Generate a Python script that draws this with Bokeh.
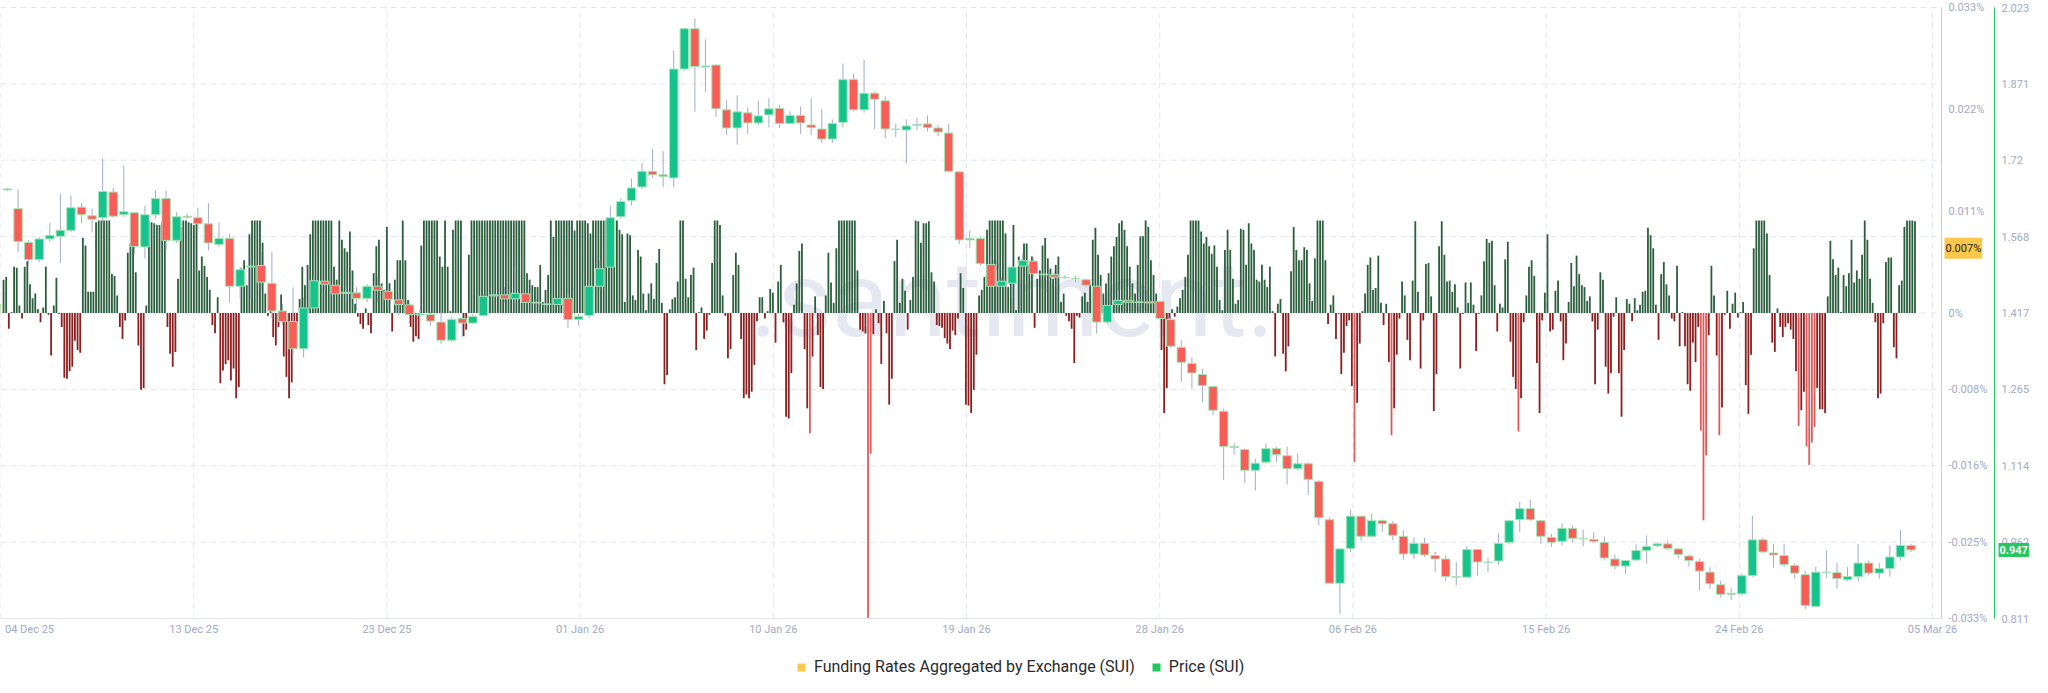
from bokeh.plotting import figure
from bokeh.models import Range1d, LinearAxis, FixedTicker, Label, Legend, LegendItem, ColumnDataSource
from bokeh.embed import file_html
from bokeh.resources import INLINE

# ---------------- axes (x in days since 2025-12-04 00:00) ----------------
x_tick_days = [0.669, 9.804, 18.939, 28.074, 37.209, 46.344, 55.479, 64.614, 73.749, 82.884, 92.019]
x_tick_labels = ["04 Dec 25", "13 Dec 25", "23 Dec 25", "01 Jan 26", "10 Jan 26", "19 Jan 26",
                 "28 Jan 26", "06 Feb 26", "15 Feb 26", "24 Feb 26", "05 Mar 26"]
price_ticks = [0.811, 0.9625, 1.114, 1.2655, 1.417, 1.5685, 1.72, 1.8715, 2.023]
price_tick_labels = ["0.811", "0.962", "1.114", "1.265", "1.417", "1.568", "1.72", "1.871", "2.023"]
funding_ticks = [33, 22, 11, 0, -8.25, -16.5, -24.75, -33]          # units of 0.001 %
funding_tick_labels = ["0.033%", "0.022%", "0.011%", "0%", "-0.008%", "-0.016%", "-0.025%", "-0.033%"]
legend_labels = ["Funding Rates Aggregated by Exchange (SUI)", "Price (SUI)"]
last_funding_label = "0.007%"
last_funding = 7
last_price = 0.947

# ---------------- price (SUI), 12h candles starting 2025-12-05 00:00 ----------------
candle_start = 1.0
candle_step = 0.5
price_open = [
    1.663, 1.624, 1.557, 1.523, 1.564, 1.569, 1.581, 1.627, 1.610, 1.606,
    1.657, 1.612, 1.616, 1.548, 1.612, 1.644, 1.561, 1.609, 1.606, 1.594,
    1.553, 1.565, 1.470, 1.508, 1.511, 1.476, 1.421, 1.400, 1.346, 1.427,
    1.480, 1.472, 1.456, 1.457, 1.446, 1.470, 1.460, 1.443, 1.433, 1.413,
    1.414, 1.399, 1.363, 1.406, 1.397, 1.412, 1.451, 1.453, 1.445, 1.455,
    1.438, 1.435, 1.434, 1.446, 1.404, 1.412, 1.470, 1.508, 1.608, 1.640,
    1.667, 1.698, 1.691, 1.685, 1.901, 1.981, 1.905, 1.909, 1.820, 1.784,
    1.814, 1.794, 1.810, 1.823, 1.793, 1.809, 1.790, 1.782, 1.762, 1.795,
    1.880, 1.820, 1.853, 1.838, 1.782, 1.780, 1.789, 1.792, 1.784, 1.774,
    1.697, 1.562, 1.565, 1.513, 1.470, 1.476, 1.510, 1.520, 1.493, 1.493,
    1.488, 1.486, 1.483, 1.470, 1.399, 1.434, 1.442, 1.438, 1.439, 1.440,
    1.404, 1.349, 1.317, 1.295, 1.271, 1.222, 1.152, 1.146, 1.105, 1.121,
    1.148, 1.134, 1.108, 1.118, 1.083, 1.007, 0.881, 0.950, 1.014, 0.974,
    1.005, 0.999, 0.974, 0.939, 0.960, 0.936, 0.929, 0.894, 0.893, 0.948,
    0.922, 0.925, 0.962, 1.007, 1.029, 1.005, 0.972, 0.964, 0.990, 0.970,
    0.968, 0.962, 0.929, 0.915, 0.927, 0.946, 0.955, 0.959, 0.949, 0.935,
    0.924, 0.903, 0.878, 0.859, 0.860, 0.896, 0.967, 0.941, 0.936, 0.916,
    0.898, 0.835, 0.903, 0.902, 0.888, 0.894, 0.921, 0.901, 0.910, 0.933,
    0.956]
price_high = [
    1.665, 1.662, 1.562, 1.567, 1.596, 1.654, 1.650, 1.635, 1.624, 1.723,
    1.665, 1.710, 1.617, 1.630, 1.661, 1.659, 1.617, 1.614, 1.626, 1.635,
    1.597, 1.574, 1.508, 1.528, 1.538, 1.538, 1.435, 1.468, 1.448, 1.491,
    1.483, 1.475, 1.468, 1.468, 1.474, 1.488, 1.476, 1.452, 1.438, 1.425,
    1.419, 1.419, 1.409, 1.415, 1.415, 1.452, 1.456, 1.468, 1.508, 1.458,
    1.445, 1.438, 1.450, 1.455, 1.415, 1.475, 1.521, 1.630, 1.644, 1.684,
    1.715, 1.743, 1.738, 1.938, 1.983, 2.001, 1.960, 1.910, 1.839, 1.849,
    1.825, 1.838, 1.843, 1.830, 1.817, 1.827, 1.843, 1.822, 1.801, 1.912,
    1.891, 1.920, 1.856, 1.847, 1.793, 1.801, 1.804, 1.809, 1.790, 1.793,
    1.698, 1.581, 1.569, 1.529, 1.488, 1.511, 1.535, 1.527, 1.503, 1.501,
    1.492, 1.491, 1.485, 1.475, 1.438, 1.462, 1.445, 1.458, 1.441, 1.442,
    1.409, 1.363, 1.329, 1.306, 1.273, 1.227, 1.158, 1.148, 1.128, 1.158,
    1.151, 1.152, 1.138, 1.121, 1.086, 1.011, 0.950, 1.027, 1.015, 1.019,
    1.007, 1.004, 0.986, 0.972, 0.971, 0.943, 0.936, 0.923, 0.954, 0.949,
    0.931, 0.980, 1.007, 1.042, 1.047, 1.006, 0.979, 1.000, 0.996, 0.987,
    0.982, 0.974, 0.938, 0.927, 0.958, 0.976, 0.962, 0.966, 0.951, 0.938,
    0.929, 0.913, 0.886, 0.872, 0.900, 1.015, 0.972, 0.959, 0.959, 0.920,
    0.905, 0.914, 0.946, 0.921, 0.913, 0.959, 0.926, 0.921, 0.956, 0.987,
    0.959]
price_low = [
    1.660, 1.538, 1.513, 1.518, 1.558, 1.516, 1.577, 1.595, 1.577, 1.594,
    1.606, 1.607, 1.534, 1.525, 1.604, 1.542, 1.557, 1.604, 1.582, 1.541,
    1.548, 1.438, 1.445, 1.448, 1.465, 1.407, 1.394, 1.333, 1.329, 1.422,
    1.462, 1.452, 1.438, 1.422, 1.438, 1.438, 1.429, 1.412, 1.397, 1.397,
    1.392, 1.356, 1.359, 1.369, 1.396, 1.410, 1.447, 1.438, 1.435, 1.434,
    1.419, 1.430, 1.429, 1.387, 1.392, 1.406, 1.462, 1.505, 1.604, 1.630,
    1.663, 1.685, 1.667, 1.667, 1.898, 1.816, 1.855, 1.806, 1.770, 1.751,
    1.772, 1.789, 1.785, 1.784, 1.792, 1.772, 1.770, 1.754, 1.754, 1.785,
    1.817, 1.814, 1.782, 1.764, 1.766, 1.714, 1.780, 1.777, 1.768, 1.697,
    1.554, 1.546, 1.511, 1.468, 1.467, 1.448, 1.507, 1.489, 1.488, 1.483,
    1.484, 1.478, 1.468, 1.376, 1.396, 1.429, 1.434, 1.429, 1.435, 1.402,
    1.348, 1.280, 1.267, 1.240, 1.214, 1.086, 1.136, 1.080, 1.065, 1.118,
    1.121, 1.077, 1.105, 1.056, 0.996, 0.880, 0.820, 0.943, 0.966, 0.972,
    0.982, 0.966, 0.928, 0.929, 0.933, 0.903, 0.885, 0.877, 0.892, 0.896,
    0.903, 0.918, 0.958, 0.982, 1.005, 0.959, 0.953, 0.956, 0.962, 0.954,
    0.960, 0.926, 0.908, 0.900, 0.925, 0.920, 0.952, 0.947, 0.931, 0.914,
    0.867, 0.870, 0.853, 0.848, 0.857, 0.893, 0.941, 0.912, 0.913, 0.890,
    0.830, 0.833, 0.892, 0.870, 0.885, 0.885, 0.896, 0.890, 0.894, 0.926,
    0.943]
price_close = [
    1.661, 1.559, 1.523, 1.564, 1.571, 1.581, 1.626, 1.612, 1.603, 1.658,
    1.609, 1.618, 1.549, 1.612, 1.644, 1.561, 1.608, 1.607, 1.594, 1.556,
    1.565, 1.470, 1.503, 1.510, 1.478, 1.421, 1.400, 1.346, 1.427, 1.481,
    1.474, 1.455, 1.458, 1.446, 1.470, 1.462, 1.444, 1.434, 1.414, 1.415,
    1.401, 1.363, 1.404, 1.397, 1.410, 1.450, 1.453, 1.445, 1.456, 1.438,
    1.437, 1.434, 1.446, 1.404, 1.410, 1.470, 1.505, 1.606, 1.638, 1.665,
    1.698, 1.691, 1.688, 1.901, 1.981, 1.906, 1.907, 1.822, 1.784, 1.816,
    1.794, 1.808, 1.822, 1.793, 1.809, 1.794, 1.785, 1.762, 1.793, 1.880,
    1.820, 1.853, 1.841, 1.782, 1.781, 1.788, 1.791, 1.785, 1.776, 1.698,
    1.562, 1.565, 1.515, 1.470, 1.480, 1.508, 1.521, 1.495, 1.494, 1.488,
    1.487, 1.485, 1.472, 1.399, 1.432, 1.442, 1.438, 1.439, 1.437, 1.406,
    1.351, 1.319, 1.298, 1.273, 1.224, 1.152, 1.150, 1.105, 1.119, 1.148,
    1.136, 1.108, 1.118, 1.087, 1.011, 0.881, 0.949, 1.014, 0.974, 1.005,
    0.999, 0.976, 0.939, 0.960, 0.937, 0.929, 0.894, 0.893, 0.948, 0.923,
    0.923, 0.960, 1.005, 1.029, 1.007, 0.974, 0.962, 0.990, 0.970, 0.969,
    0.964, 0.931, 0.915, 0.926, 0.946, 0.954, 0.959, 0.950, 0.938, 0.926,
    0.905, 0.880, 0.859, 0.861, 0.896, 0.967, 0.943, 0.937, 0.918, 0.901,
    0.837, 0.903, 0.902, 0.890, 0.894, 0.921, 0.901, 0.910, 0.933, 0.956,
    0.947]

# ---------------- funding rate, 3h steps, units of 0.001 % ----------------
funding_start = 0.8125
funding_step = 0.125
funding_rate = [
    3.6, 3.9, -1.7, 0.1, 5.0, 4.9, 0.8, -0.6, 5.0, 5.6,
    3.1, 1.6, 2.1, 0.4, -1.0, 0.6, 5.0, -0.2, -4.6, 0.8,
    3.8, -0.1, -1.5, -7.0, -7.1, -6.3, -5.8, -3.0, -4.0, -4.3,
    8.1, 7.3, 2.3, 2.3, 2.3, 9.8, 10, 10, 10, 10,
    10, 4.2, 4.0, 1.9, -1.5, -2.8, -0.8, 6.5, 7.5, 7.3,
    4.4, -3.5, -8.3, -8.1, 0.8, 9.8, 9.8, 9.7, 9.5, 9.5,
    9.8, 9.8, -1.5, -4.4, -5.8, -4.2, 3.7, 9.3, 10, 10,
    9.8, 9.7, 9.5, 9.7, 4.6, 6.1, 5.1, 3.9, 2.5, -1.3,
    -2.2, 1.7, -7.6, -6.2, -5.5, -5.1, -7.3, -6.0, -9.2, -8.0,
    4.8, 5.7, 3.0, 8.5, 10, 10, 10, 10, 7.6, 2.1,
    -0.3, 2.1, -2.6, -3.5, -1.5, 2.0, -4.7, -6.9, -9.2, -7.5,
    -3.0, -1.0, 1.5, 5.0, 3.0, 5.2, 8.5, 10, 10, 10,
    10, 10, 10, 10, 10, 5.0, 3.6, 10, 7.9, 7.0,
    6.6, 8.8, 4.6, 1.0, -0.4, -1.2, -1.7, 0.5, -1.3, -2.2,
    4.3, 7.2, 7.9, 3.2, 2.5, 9.3, 3.2, -2.0, 3.6, 5.7,
    5.7, 10, 5.7, 1.4, -1.5, -3.1, -2.5, -2.8, 7.3, 10,
    10, 10, 10, 10, 10, 6.1, 5.0, 10, 5.0, 0.2,
    9.0, 10, 10, 10, -2.5, -1.8, 6.3, 10, 10, 10,
    10, 10, 10, 10, 10, 10, 10, 10, 10, 10,
    10, 10, 10, 10, 10, 10, 10, 10, 4.3, 3.6,
    3.0, 2.8, 2.8, 5.2, 1.2, 2.5, 4.1, 10, 8.2, 10,
    10, 10, 10, 10, 10, 10, 8.9, 10, 10, 10,
    10, 9.7, 8.6, 10, 10, 10, 10, 10, 10, 10,
    10, 10, 10, 9.0, 8.5, 1.2, 8.6, 8.4, 1.9, 1.4,
    6.8, 6.1, 2.1, 0.3, 2.1, 3.2, 1.5, 5.4, 6.9, 1.1,
    -7.7, -6.7, 0.4, 1.5, 1.7, 3.4, 10, 10, 3.7, 1.7,
    4.1, 4.9, -4.0, 0.1, 0.6, -2.8, -1.9, -0.2, 5.4, 10,
    10, 9.5, 1.9, -0.3, -4.9, -3.9, 4.1, 6.5, 5.2, -2.8,
    -9.2, -8.8, -9.2, -8.5, -5.6, -0.9, 1.7, 1.7, -0.6, 0.2,
    2.6, 2.2, -3.2, 3.4, 5.2, -1.0, -11.2, -11.4, -6.5, 0.9,
    3.2, 6.7, 7.5, -3.9, -10.3, -13.0, -4.7, 1.8, -2.4, -8.0,
    -8.2, 1.9, 6.5, 3.3, 1.1, 7.0, 10, 10, 10, 10,
    10, 10, 10, 4.6, -1.8, -2.0, -2.2, -33, -15.2, -2.3,
    0.4, -1.1, -5.5, 1.3, -2.2, -9.9, -7.1, 5.6, 7.9, 1.1,
    3.7, 2.4, -1.8, 1.4, 3.9, 10, 9.9, 7.6, 9.7, 9.7,
    9.9, 4.4, 3.4, -1.3, -1.4, -1.6, -2.7, -3.3, -3.9, -1.9,
    -2.4, -0.6, 4.3, 2.7, -9.9, -10.0, -10.8, -8.3, -4.5, 1.9,
    2.5, 3.9, 9.0, 10, 10, 10, 10, 10, 10, 8.6,
    2.8, 3.7, 9.5, 0.3, 6.1, 5.2, 7.5, 7.5, 5.2, 6.1,
    -1.6, 3.7, 4.6, 7.3, 8.1, 5.9, 4.8, 3.7, 5.2, 6.1,
    1.2, 2.1, -0.3, -0.9, -1.7, -5.4, -0.3, -0.5, 1.8, 2.2,
    1.2, 3.2, 7.9, 9.2, 6.3, 4.1, 2.1, 3.2, 4.3, 6.1,
    7.2, 8.2, 9.7, 10, 9.0, 7.2, 5.0, 3.2, 2.1, 5.2,
    8.3, 8.3, 10, 9.3, 5.7, 4.1, 2.1, 0.7, -4.0, -10.8,
    -8.1, -0.6, 0.4, -0.4, 0.7, 1.6, 2.5, 3.9, 6.3, 10,
    10, 10, 10, 8.8, 7.5, 8.2, 7.2, 6.4, 7.3, 5.0,
    1.4, 0.3, 6.8, 9.0, 6.8, 3.7, 1.0, 1.4, 9.1, 9.0,
    5.2, 9.7, 7.5, 6.8, 3.6, 3.4, 5.2, 3.6, 2.8, 5.0,
    0.2, -4.7, 1.0, 1.5, -4.4, -6.3, -3.6, 4.5, 9.3, 6.8,
    5.7, 5.7, 7.1, 6.8, 3.2, 1.3, 5.9, 10, 10, 10,
    5.7, -1.2, 0.9, 1.9, -2.8, -0.1, -6.6, -4.3, -1.4, -0.8,
    -7.9, -16.1, -9.7, -3.3, 0.2, 2.1, 5.2, 6.0, 2.5, 2.7,
    6.2, 1.1, -1.3, 1.0, -5.3, -13.2, -10.3, -4.5, -0.6, 3.4,
    1.9, -2.9, -5.1, 3.5, 9.9, 2.3, -6.0, -0.8, 5.3, 5.4,
    1.8, -10.6, -6.6, 7.2, 9.9, 6.3, 3.4, 3.5, 2.3, 3.1,
    0.6, -6.0, -0.1, 3.3, 1.1, 3.3, 0.9, -4.1, -0.1, 1.9,
    5.6, 8.0, 7.6, 7.8, 3.0, -2.0, 1.0, 0.6, 5.8, 7.7,
    -3.1, -6.9, -8.2, -12.8, -9.2, -1.0, 1.9, 5.0, 5.7, 4.0,
    -5.4, -10.8, -0.8, 2.2, 8.5, -2.0, -1.8, 2.4, 3.5, -0.9,
    -5.1, -3.3, 1.2, 5.4, 2.9, 6.2, 4.2, 3.0, 2.8, 1.3,
    1.8, -0.9, -7.7, -1.8, 4.4, 3.6, -5.8, -8.7, -6.5, -0.4,
    1.7, -6.5, -11.2, -4.0, 1.5, 1.0, -0.9, 1.6, 0.3, 0.9,
    2.3, 2.4, 9.2, 8.4, 7.0, 0.9, -2.9, 4.2, 5.5, 3.1,
    1.9, -0.6, -0.9, 5.1, -3.6, 0.1, -3.6, -7.7, -8.4, -3.2,
    -5.3, -1.5, -12.7, -22.4, -15.4, -2.4, 5.1, 1.9, -4.6, -13.2,
    -10.2, -0.2, 2.4, -1.7, 1.0, 2.2, -0.5, 0.1, 1.2, -7.8,
    -10.9, -4.5, 7.0, 10, 10, 10, 10, 8.6, 4.1, -3.2,
    -4.2, 0.5, -1.5, -2.6, -1.5, -1.1, -1.8, -2.8, -6.3, -12.2,
    -10.5, -8.5, -14.4, -16.4, -14.0, -12.3, -8.1, -10.4, -10.4, -10.8,
    1.8, 7.8, 5.8, 4.1, 4.9, 0.1, 4.1, 2.9, 4.3, 7.9,
    3.3, 4.6, 3.7, 6.3, 10, 7.9, 3.7, 1.1, -1.0, -9.2,
    -8.7, -1.1, 5.5, 6.0, 6.0, -3.7, -4.9, 3.0, 3.5, 9.3,
    10, 10, 10, 9.9]

# ---------------- layout & styles ----------------
W, H = 2048, 693
PLOT_TOP, PLOT_BOTTOM, PLOT_RIGHT, PRICE_AXIS_X = 7, 618, 1941, 1994
PX_PER_DAY = 21.15
FONT = "Roboto"
TICK_COLOR = "#a2aac6"
GRID_COLOR = "#e3e6ef"
UP = "#17c38d"
DOWN = "#f85d57"
BODY_LINE = "#a5e5b5"
WICK = "#a4abcc"
POS_BAR = "#2b5e3d"
NEG_BAR = "#8b1e1e"
NEG_BAR_DEEP = "#e05a5a"
ORANGE = "#ffc84a"
GREEN = "#25c75f"

x_start = x_tick_days[0]
x_plot_end = x_start + PLOT_RIGHT / PX_PER_DAY
x_price_axis = x_start + PRICE_AXIS_X / PX_PER_DAY
x_end = x_start + W / PX_PER_DAY
plot_h = PLOT_BOTTOM - PLOT_TOP
f_lo, f_hi = funding_ticks[-1], funding_ticks[0]
p_lo, p_hi = price_ticks[0], price_ticks[-1]
f_px = (f_hi - f_lo) / plot_h
p_px = (p_hi - p_lo) / plot_h

p = figure(width=W, height=H, output_backend="svg", toolbar_location=None,
           x_range=Range1d(x_start, x_end),
           y_range=Range1d(f_lo - (H - PLOT_BOTTOM) * f_px, f_hi + PLOT_TOP * f_px),
           x_axis_location=None, y_axis_location=None, min_border=0,
           background_fill_color="white", border_fill_color="white", outline_line_color=None)
p.extra_y_ranges = {"price": Range1d(p_lo - (H - PLOT_BOTTOM) * p_px, p_hi + PLOT_TOP * p_px)}
for g in p.grid:
    g.visible = False

# dashed grid (price ticks horizontally, date ticks vertically)
p.segment(x0=x_start, y0=price_ticks, x1=x_plot_end, y1=price_ticks, y_range_name="price",
          line_color=GRID_COLOR, line_width=1, line_dash="6 4", level="underlay")
p.segment(x0=x_tick_days, y0=p_lo, x1=x_tick_days, y1=p_hi, y_range_name="price",
          line_color=GRID_COLOR, line_width=1, line_dash="6 4", level="underlay")

def style_axis(ax):
    ax.major_tick_line_color = None
    ax.minor_tick_line_color = None
    ax.major_tick_in = 0
    ax.major_tick_out = 0
    ax.minor_tick_in = 0
    ax.minor_tick_out = 0
    ax.major_label_text_font = FONT
    ax.major_label_text_font_size = "11px"
    ax.major_label_text_color = TICK_COLOR

# x axis: label of the first tick is nudged inside the canvas
x_label_pos = [x_start + 29 / PX_PER_DAY] + x_tick_days[1:]
xa = LinearAxis(fixed_location=f_lo, bounds=(x_start, x_plot_end),
                ticker=FixedTicker(ticks=x_label_pos),
                major_label_overrides={t: l for t, l in zip(x_label_pos, x_tick_labels)})
style_axis(xa)
xa.axis_line_color = "#e1e4ec"
xa.major_label_standoff = 4
p.add_layout(xa, "below")

# funding axis
fa = LinearAxis(fixed_location=x_plot_end, bounds=(f_lo, f_hi),
                ticker=FixedTicker(ticks=funding_ticks),
                major_label_overrides={t: l for t, l in zip(funding_ticks, funding_tick_labels)})
style_axis(fa)
fa.axis_line_color = ORANGE
fa.major_label_standoff = 7
p.add_layout(fa, "right")

# price axis
pa = LinearAxis(y_range_name="price", fixed_location=x_price_axis, bounds=(p_lo, p_hi),
                ticker=FixedTicker(ticks=price_ticks),
                major_label_overrides={t: l for t, l in zip(price_ticks, price_tick_labels)})
style_axis(pa)
pa.axis_line_color = GREEN
pa.major_label_standoff = 7
p.add_layout(pa, "right")

# watermark
p.add_layout(Label(x=48.5, y=1.3, text=".santiment.",
                   text_font=FONT, text_font_size="105px", text_color="#e6e8f1",
                   text_align="center", text_baseline="alphabetic", level="underlay"))

# funding bars
f_t = [funding_start + funding_step * j for j in range(len(funding_rate))]
f_col = [POS_BAR if v >= 0 else (NEG_BAR_DEEP if v <= -12 else NEG_BAR) for v in funding_rate]
fsrc = ColumnDataSource(dict(t=f_t, v=funding_rate, c=f_col))
p.vbar(x="t", top="v", bottom=0, width=0.085, fill_color="c", line_color=None, source=fsrc)

# candles
c_t = [candle_start + candle_step * i for i in range(len(price_open))]
csrc = ColumnDataSource(dict(
    t=c_t, o=price_open, h=price_high, l=price_low, c=price_close,
    top=[max(o, c) for o, c in zip(price_open, price_close)],
    bot=[min(o, c) for o, c in zip(price_open, price_close)],
    col=[UP if c >= o else DOWN for o, c in zip(price_open, price_close)]))
p.segment(x0="t", y0="l", x1="t", y1="h", line_color=WICK, line_width=1,
          source=csrc, y_range_name="price")
p.vbar(x="t", top="top", bottom="bot", width=0.4, fill_color="col", line_color=BODY_LINE,
       line_width=1, source=csrc, y_range_name="price")

# last-value badges
p.add_layout(Label(x=x_plot_end, y=last_funding, x_offset=3, text=last_funding_label,
                   text_font=FONT, text_font_size="11px", text_color="#1b1b1b",
                   background_fill_color=ORANGE, padding=(1, 4),
                   text_align="left", text_baseline="middle"))
p.add_layout(Label(x=x_price_axis, y=last_price, x_offset=4, y_range_name="price",
                   text=f"{last_price:.3f}", text_font=FONT, text_font_size="11px",
                   text_color="white", text_font_style="bold",
                   background_fill_color=GREEN, padding=(1, 3),
                   text_align="left", text_baseline="middle"))

# legend below the plot area (square swatches from off-screen bar renderers)
r_f = p.vbar(x=[-50], top=[1], bottom=[0], width=1, fill_color=ORANGE, line_color=None)
r_p = p.vbar(x=[-50], top=[1], bottom=[0], width=1, fill_color=GREEN, line_color=None)
legend = Legend(items=[LegendItem(label=legend_labels[0], renderers=[r_f]),
                       LegendItem(label=legend_labels[1], renderers=[r_p])],
                orientation="horizontal", location=(796, 17),
                border_line_color=None, background_fill_alpha=0,
                label_text_font=FONT, label_text_font_size="16px", label_text_color="#2a2a2a",
                glyph_width=10, glyph_height=10, label_standoff=8, spacing=16,
                padding=4, margin=0)
p.add_layout(legend)

open("out.html", "w").write(file_html(p, INLINE))
